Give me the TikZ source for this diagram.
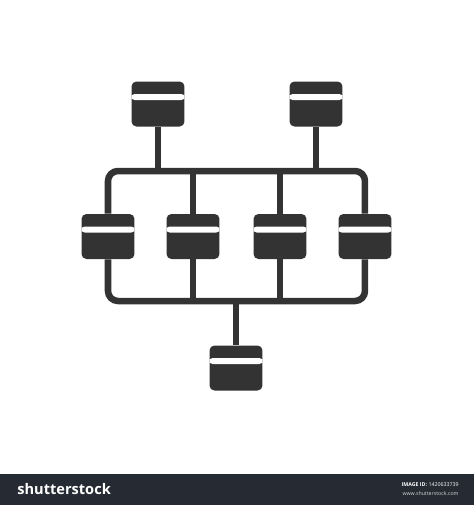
\documentclass[tikz,border=0pt]{standalone}
\usepackage{fontspec}
\usepackage{tikz}
\newfontfamily\logofont{Open Sans}
\definecolor{icongray}{HTML}{333333}
\definecolor{barnavy}{HTML}{262A33}
\tikzset{
	box/.style={rectangle, fill=icongray, rounded corners=2.8pt, minimum width=1.06cm, minimum height=0.9cm, inner sep=0pt,
		path picture={\fill[white] ([yshift=-0.25cm,xshift=-1pt]path picture bounding box.north west) rectangle ([yshift=-0.37cm,xshift=1pt]path picture bounding box.north east);}},
	bus/.style={draw=icongray, line width=3.7pt},
}
\begin{document}
\begin{tikzpicture}[x=0.02cm, y=-0.02cm]
				\useasboundingbox (0,0) rectangle (474,505);
				\fill[white] (0,0) rectangle (474,505);
				
				% bus corners
				\coordinate (nw) at (108,171);
				\coordinate (ne) at (365,171);
				\coordinate (sw) at (108,301);
				\coordinate (se) at (365,301);
				
				% boxes
				\node[box] (t1) at (158,104) {};
				\node[box] (t2) at (316,104) {};
				\node[box] (b1) at (108,236.5) {};
				\node[box] (b2) at (193,236.5) {};
				\node[box] (b3) at (280,236.5) {};
				\node[box] (b4) at (365,236.5) {};
				\node[box] (bot) at (236,368) {};
				
				% bus
				\path[bus, rounded corners=0.2cm] (b1.north) -- (nw) -- (ne) -- (b4.north);
				\path[bus, rounded corners=0.2cm] (b1.south) -- (sw) -- (se) -- (b4.south);
				\path[bus] (b2.north) -- (b2.north |- nw);
				\path[bus] (b3.north) -- (b3.north |- nw);
				\path[bus] (b2.south) -- (b2.south |- sw);
				\path[bus] (b3.south) -- (b3.south |- sw);
				
				% stems
				\path[bus] (t1.south) -- (t1.south |- nw);
				\path[bus] (t2.south) -- (t2.south |- nw);
				\path[bus] (bot.north) -- (bot.north |- sw);
				
				% bottom bar
				\fill[barnavy] (0,474) rectangle (474,505);
				\node[anchor=west, text=white, font=\logofont\bfseries\fontsize{8.3}{9}\selectfont, inner sep=0pt] (logo) at (17,489) {shutterstock};
				\node[anchor=east, text=white, font=\logofont\fontsize{3}{3.6}\selectfont, inner sep=0pt] (imgid) at (459,485) {\textbf{IMAGE ID:} 1420633739};
				\node[anchor=east, text=white!80!barnavy, font=\logofont\fontsize{3}{3.6}\selectfont, inner sep=0pt] (www) at (459,494) {www.shutterstock.com};
			\end{tikzpicture}
\end{document}
